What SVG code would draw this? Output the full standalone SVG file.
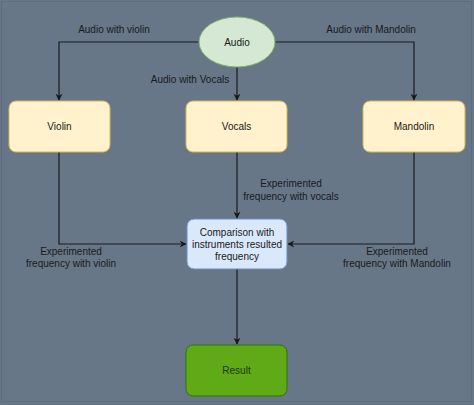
<svg xmlns="http://www.w3.org/2000/svg" width="474" height="405" viewBox="0 0 474 405">
  <defs>
    <marker id="arr" viewBox="0 0 10 10" refX="9" refY="5" markerWidth="7" markerHeight="7" orient="auto" markerUnits="userSpaceOnUse">
      <path d="M0,0 L10,5 L0,10 L3,5 Z" fill="#1a1a1a"/>
    </marker>
  </defs>
  <style>
    text { font-family: "Liberation Sans", Arial, sans-serif; font-size: 10px; fill: #1a1a1a; text-anchor: middle; }
    .edge { fill: none; stroke: #1a1a1a; stroke-width: 1.2; marker-end: url(#arr); }
    .yellow { fill: #fff2cc; stroke: #d6b656; stroke-width: 1; }
  </style>
  <rect x="0" y="0" width="474" height="405" fill="#677788"/>
  <rect x="1.5" y="1.5" width="470" height="400" fill="none" stroke="#5f6e7e" stroke-width="1"/>

  <g id="connectors">
    <path class="edge" d="M199,42 H59 V100"/>
    <path class="edge" d="M275,42 H414 V100"/>
    <path class="edge" d="M237,67 V100"/>
    <path class="edge" d="M237,152 V218"/>
    <path class="edge" d="M59,152 V244 H186"/>
    <path class="edge" d="M414,152 V244 H288"/>
    <path class="edge" d="M237,269 V344"/>
    <text x="114" y="33">Audio with violin</text>
    <text x="371" y="33">Audio with Mandolin</text>
    <text x="190" y="83">Audio with Vocals</text>
    <text x="291" y="187">Experimented</text>
    <text x="291" y="200">frequency with vocals</text>
    <text x="71" y="255">Experimented</text>
    <text x="71" y="267">frequency with violin</text>
    <text x="397" y="255">Experimented</text>
    <text x="397" y="267">frequency with Mandolin</text>
  </g>

  <g id="audio">
    <ellipse cx="237" cy="42" rx="38" ry="25" fill="#d5e8d4" stroke="#82b366" stroke-width="1"/>
    <text x="237" y="45.5">Audio</text>
  </g>
  <g id="violin">
    <rect class="yellow" x="9" y="101" width="101" height="51" rx="7"/>
    <text x="59.5" y="130">Violin</text>
  </g>
  <g id="vocals">
    <rect class="yellow" x="186" y="101" width="101" height="51" rx="7"/>
    <text x="236.5" y="130">Vocals</text>
  </g>
  <g id="mandolin">
    <rect class="yellow" x="363" y="101" width="102" height="51" rx="7"/>
    <text x="414" y="130">Mandolin</text>
  </g>
  <g id="comparison">
    <rect x="187" y="219" width="100" height="50" rx="7" fill="#dae8fc" stroke="#6c8ebf" stroke-width="1"/>
    <text x="237" y="235.5">Comparison with</text>
    <text x="237" y="247.5">instruments resulted</text>
    <text x="237" y="259.5">frequency</text>
  </g>
  <g id="result">
    <rect x="186" y="345" width="101" height="51" rx="7" fill="#60a917" stroke="#2d7600" stroke-width="1"/>
    <text x="236.5" y="374" style="fill:#1c3a05">Result</text>
  </g>
</svg>
